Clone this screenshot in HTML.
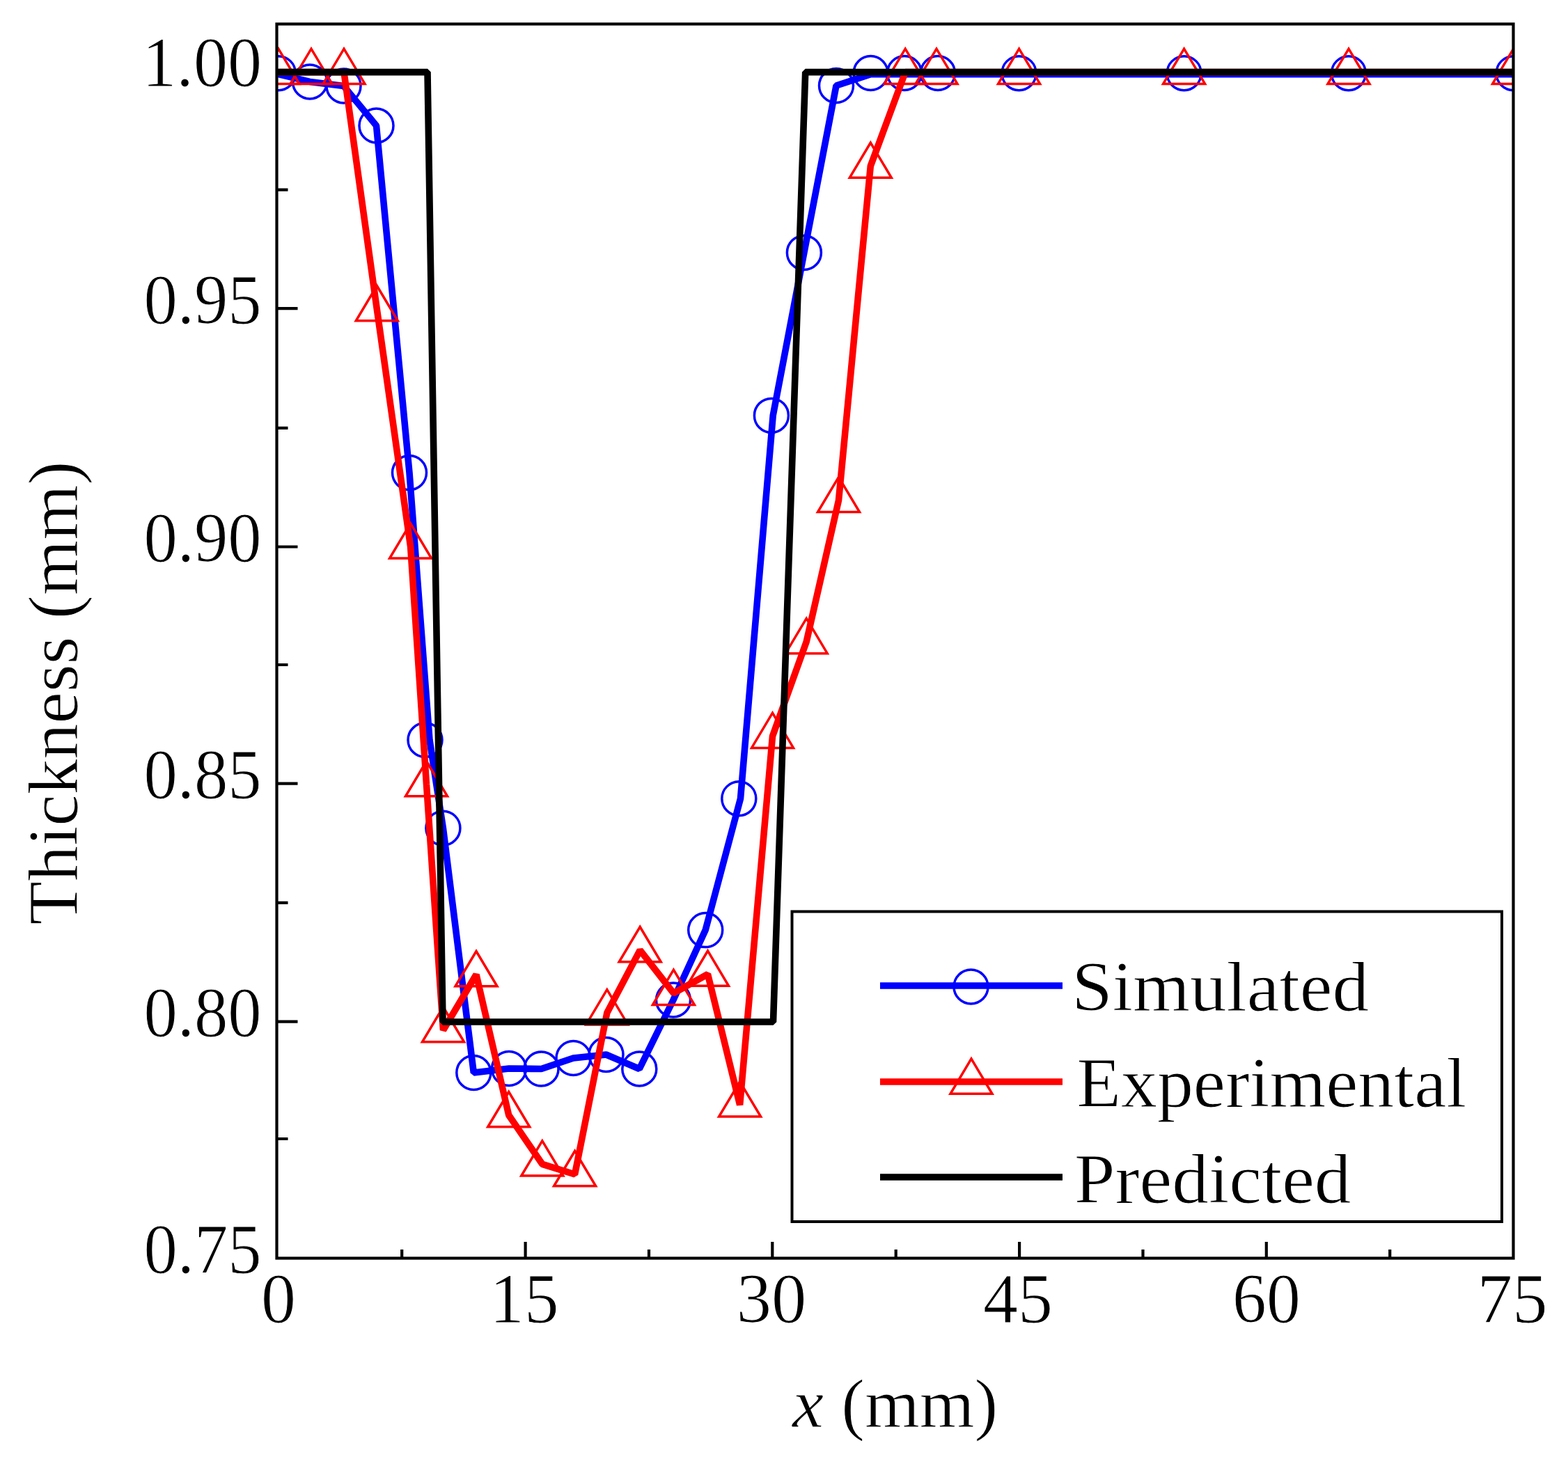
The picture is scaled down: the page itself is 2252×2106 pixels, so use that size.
<!DOCTYPE html>
<html><head><meta charset="utf-8"><title>Thickness chart</title>
<style>html,body{margin:0;padding:0;background:#fff;}svg{display:block;}text{font-family:"Liberation Serif","DejaVu Serif",serif;fill:#000;stroke:#fff;stroke-width:1px;}</style>
</head><body>
<svg width="2252" height="2106" viewBox="0 0 2252 2106">
<rect x="0" y="0" width="2252" height="2106" fill="#fff"/>
<defs><clipPath id="pa"><rect x="397.5" y="34.5" width="1776.0" height="1773.0"/></clipPath></defs>
<g clip-path="url(#pa)" fill="none" stroke-linejoin="bevel">
<polyline points="399.9,106.5 445.0,117.4 493.5,123.4 540.5,180.5 588.0,679.1 617.0,1063.0 636.4,1189.7 680.3,1541.0 731.0,1535.0 777.5,1535.5 823.5,1520.0 870.5,1515.0 918.3,1535.5 967.0,1436.5 1013.2,1336.1 1063.5,1147.2 1110.2,596.9 1154.9,362.9 1201.0,123.0 1250.5,106.8 1299.0,106.8 1347.0,106.8 1463.5,106.8 1700.6,106.8 1936.9,106.8 2173.6,106.8" stroke="#0000ff" stroke-width="9.6"/>
<g stroke="#0000ff" stroke-width="3.5">
<circle cx="399.9" cy="105.2" r="24.5"/>
<circle cx="445.0" cy="117.4" r="24.5"/>
<circle cx="493.5" cy="123.4" r="24.5"/>
<circle cx="540.5" cy="180.5" r="24.5"/>
<circle cx="588.0" cy="679.1" r="24.5"/>
<circle cx="610.5" cy="1063.0" r="24.5"/>
<circle cx="636.4" cy="1189.7" r="24.5"/>
<circle cx="680.3" cy="1541.0" r="24.5"/>
<circle cx="731.0" cy="1535.0" r="24.5"/>
<circle cx="777.5" cy="1535.5" r="24.5"/>
<circle cx="823.5" cy="1520.0" r="24.5"/>
<circle cx="870.5" cy="1515.0" r="24.5"/>
<circle cx="918.3" cy="1535.5" r="24.5"/>
<circle cx="967.0" cy="1436.5" r="24.5"/>
<circle cx="1013.2" cy="1336.1" r="24.5"/>
<circle cx="1061.3" cy="1147.2" r="24.5"/>
<circle cx="1107.9" cy="596.9" r="24.5"/>
<circle cx="1154.9" cy="362.9" r="24.5"/>
<circle cx="1201.0" cy="123.0" r="24.5"/>
<circle cx="1250.5" cy="105.0" r="24.5"/>
<circle cx="1299.0" cy="105.0" r="24.5"/>
<circle cx="1347.0" cy="105.0" r="24.5"/>
<circle cx="1463.5" cy="105.2" r="24.5"/>
<circle cx="1700.6" cy="105.2" r="24.5"/>
<circle cx="1936.9" cy="105.2" r="24.5"/>
<circle cx="2173.6" cy="105.2" r="24.5"/>
</g>
<polyline points="399.9,103.6 447.0,103.6 494.0,103.6 541.3,444.0 589.6,785.3 612.5,1127.0 636.5,1480.0 684.0,1400.0 730.7,1602.0 778.8,1672.3 825.6,1687.0 871.8,1455.1 919.2,1365.0 967.4,1426.7 1016.5,1399.5 1062.6,1587.3 1109.5,1057.6 1158.2,921.9 1204.5,718.8 1250.3,238.5 1300.2,103.6 1345.0,103.6 1463.6,103.6 1700.6,103.6 1937.0,103.6 2173.6,103.6" stroke="#ff0000" stroke-width="9.6"/>
<g stroke="#ff0000" stroke-width="3.5" stroke-linejoin="miter" stroke-miterlimit="10">
<path d="M399.9,70.1 L429.9,120.4 L369.9,120.4 Z"/>
<path d="M447.0,70.1 L477.0,120.4 L417.0,120.4 Z"/>
<path d="M494.0,70.1 L524.0,120.4 L464.0,120.4 Z"/>
<path d="M541.3,410.5 L571.3,460.8 L511.3,460.8 Z"/>
<path d="M589.6,751.8 L619.6,802.1 L559.6,802.1 Z"/>
<path d="M612.5,1093.5 L642.5,1143.8 L582.5,1143.8 Z"/>
<path d="M636.5,1446.5 L666.5,1496.8 L606.5,1496.8 Z"/>
<path d="M684.0,1366.5 L714.0,1416.8 L654.0,1416.8 Z"/>
<path d="M730.7,1568.5 L760.7,1618.8 L700.7,1618.8 Z"/>
<path d="M778.8,1638.8 L808.8,1689.1 L748.8,1689.1 Z"/>
<path d="M825.6,1653.5 L855.6,1703.8 L795.6,1703.8 Z"/>
<path d="M871.8,1421.6 L901.8,1471.9 L841.8,1471.9 Z"/>
<path d="M919.2,1331.5 L949.2,1381.8 L889.2,1381.8 Z"/>
<path d="M967.4,1393.2 L997.4,1443.5 L937.4,1443.5 Z"/>
<path d="M1016.5,1366.0 L1046.5,1416.3 L986.5,1416.3 Z"/>
<path d="M1062.6,1553.8 L1092.6,1604.1 L1032.6,1604.1 Z"/>
<path d="M1109.5,1024.1 L1139.5,1074.4 L1079.5,1074.4 Z"/>
<path d="M1158.2,888.4 L1188.2,938.7 L1128.2,938.7 Z"/>
<path d="M1204.5,685.3 L1234.5,735.6 L1174.5,735.6 Z"/>
<path d="M1250.3,205.0 L1280.3,255.3 L1220.3,255.3 Z"/>
<path d="M1300.2,70.1 L1330.2,120.4 L1270.2,120.4 Z"/>
<path d="M1345.0,70.1 L1375.0,120.4 L1315.0,120.4 Z"/>
<path d="M1463.6,70.1 L1493.6,120.4 L1433.6,120.4 Z"/>
<path d="M1700.6,70.1 L1730.6,120.4 L1670.6,120.4 Z"/>
<path d="M1937.0,70.1 L1967.0,120.4 L1907.0,120.4 Z"/>
<path d="M2173.6,70.1 L2203.6,120.4 L2143.6,120.4 Z"/>
</g>
<polyline points="394.5,103.6 614.0,103.6 636.0,1468.0 1110.5,1468.0 1156.7,103.6 2176.5,103.6" stroke="#000" stroke-width="9.6"/>
</g>
<rect x="397.5" y="34.5" width="1776.0" height="1773.0" fill="none" stroke="#000" stroke-width="4.2"/>
<path d="M577.2,1807.5 V1795.0 M754.6,1807.5 V1784.0 M932.0,1807.5 V1795.0 M1109.3,1807.5 V1784.0 M1286.7,1807.5 V1795.0 M1464.1,1807.5 V1784.0 M1641.5,1807.5 V1795.0 M1818.8,1807.5 V1784.0 M1996.2,1807.5 V1795.0 M397.5,102.0 H427.5 M397.5,272.6 H413.5 M397.5,443.2 H427.5 M397.5,614.9 H413.5 M397.5,785.5 H427.5 M397.5,955.0 H413.5 M397.5,1125.6 H427.5 M397.5,1296.9 H413.5 M397.5,1467.7 H427.5 M397.5,1636.0 H413.5" stroke="#000" stroke-width="4.2" fill="none"/>
<text transform="translate(204.27,123.80) scale(0.9604,1)" font-size="102.20">1.00</text>
<text transform="translate(206.43,464.60) scale(0.9462,1)" font-size="102.20">0.95</text>
<text transform="translate(206.43,806.90) scale(0.9462,1)" font-size="102.20">0.90</text>
<text transform="translate(206.43,1147.00) scale(0.9462,1)" font-size="102.20">0.85</text>
<text transform="translate(206.43,1489.10) scale(0.9462,1)" font-size="102.20">0.80</text>
<text transform="translate(206.43,1828.90) scale(0.9462,1)" font-size="102.20">0.75</text>
<text transform="translate(375.10,1900.40) scale(0.9775,1)" font-size="102.30">0</text>
<text transform="translate(703.37,1900.40) scale(0.9697,1)" font-size="102.30">15</text>
<text transform="translate(1057.67,1900.40) scale(0.9829,1)" font-size="102.30">30</text>
<text transform="translate(1412.00,1900.40) scale(0.9775,1)" font-size="102.30">45</text>
<text transform="translate(1770.12,1900.40) scale(0.9539,1)" font-size="102.30">60</text>
<text transform="translate(2121.51,1900.40) scale(0.9896,1)" font-size="102.30">75</text>
<text transform="translate(111.46,1328.44) rotate(-90) scale(1.0138,1)" font-size="100.68">Thickness (mm)</text>
<text transform="translate(1138.11,2049.75) scale(1.0253,1)" font-size="98.75"><tspan font-style="italic">x</tspan> (mm)</text>
<rect x="1137.5" y="1309.5" width="1019.5" height="445.5" fill="#fff" stroke="#000" stroke-width="4"/>
<line x1="1264" y1="1416" x2="1526" y2="1416" stroke="#0000ff" stroke-width="9.6"/>
<circle cx="1394.5" cy="1417.5" r="24.5" fill="none" stroke="#0000ff" stroke-width="3.5"/>
<line x1="1264" y1="1554" x2="1526" y2="1554" stroke="#ff0000" stroke-width="9.6"/>
<path d="M1395.0,1521.0 L1425.0,1571.3 L1365.0,1571.3 Z" fill="none" stroke="#ff0000" stroke-width="3.5"/>
<line x1="1264" y1="1691" x2="1526" y2="1691" stroke="#000" stroke-width="9.6"/>
<text transform="translate(1539.23,1452.20) scale(1.0353,1)" font-size="101.70">Simulated</text>
<text transform="translate(1546.48,1589.50) scale(1.0218,1)" font-size="101.70">Experimental</text>
<text transform="translate(1543.04,1727.50) scale(1.0350,1)" font-size="101.70">Predicted</text>
</svg></body></html>
